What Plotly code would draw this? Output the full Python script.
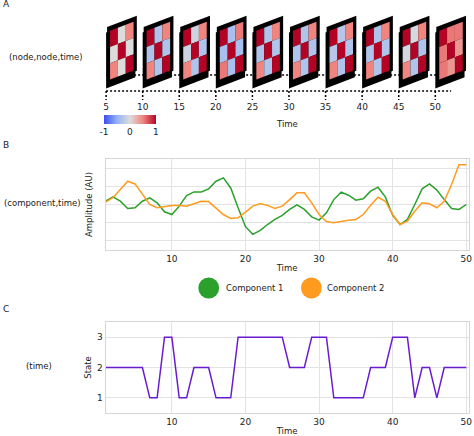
import plotly.graph_objects as go
from plotly.colors import sample_colorscale

W, H = 474, 436
FONT = "DejaVu Sans"

# ---------------- data ----------------
time = list(range(1, 51))
component1 = [0.18, 0.42, 0.18, -0.22, -0.18, 0.18, 0.37, 0.09, -0.40, -0.55,
              -0.09, 0.49, 0.69, 0.69, 0.86, 1.28, 1.46, 0.91, -0.18, -1.22,
              -1.64, -1.42, -1.10, -0.82, -0.60, -0.27, -0.02, -0.27, -0.68, -0.86,
              -0.46, 0.27, 0.68, 0.51, 0.24, 0.31, 0.73, 0.95, 0.42, -0.60,
              -1.10, -0.82, 0.00, 0.86, 1.13, 0.79, 0.27, -0.22, -0.27, 0.00]
component2 = [0.13, 0.37, 0.82, 1.28, 1.13, 0.55, 0.00, -0.18, -0.13, -0.05,
              -0.05, -0.09, 0.04, 0.18, 0.16, -0.18, -0.55, -0.77, -0.73, -0.42,
              -0.09, 0.05, -0.05, -0.22, -0.09, 0.27, 0.64, 0.64, 0.09, -0.55,
              -0.93, -1.00, -0.91, -0.86, -0.82, -0.55, -0.04, 0.40, 0.18, -0.55,
              -1.10, -0.91, -0.37, 0.09, 0.04, -0.18, 0.18, 1.10, 2.19, 2.19]
state = [2, 2, 2, 2, 2, 2, 1, 1, 3, 3, 1, 1, 2, 2, 2, 1, 1, 1, 3, 3,
         3, 3, 3, 3, 3, 2, 2, 2, 3, 3, 3, 1, 1, 1, 1, 1, 2, 2, 2, 3,
         3, 3, 1, 2, 2, 1, 2, 2, 2, 2]

comp_names = ["Component 1", "Component 2"]
comp_colors = ["#2ca02c", "#ff9b1f"]
state_color = "#6a1bd1"

snap_times = [5, 10, 15, 20, 25, 30, 35, 40, 45, 50]
corr12 = [0.0, -0.3, -0.1, -0.35, -0.3, -0.3, -0.25, -0.3, -0.05, 0.55]
corr13 = [0.5, 0.5, 0.5, 0.55, 0.5, 0.5, 0.5, 0.5, 0.5, 0.55]
corr23 = [0.0, -0.3, -0.3, -0.35, -0.3, -0.3, -0.3, -0.3, -0.3, 0.4]

cscale = [[0.0, "#3a4ff0"], [0.25, "#93b2f5"], [0.5, "#dcdcdc"],
          [0.75, "#f08580"], [1.0, "#b40426"]]

fig = go.Figure()

# ---------------- panel A geometry ----------------
PPU = 332 / 45.0          # px per time unit
X3_0 = snap_times[0] - 107 / PPU
XR3 = [X3_0, X3_0 + W / PPU]
SK = 0.38                 # skew (px up per px right)


def para(t, x0, x1, ytop, ybot):
    xs = [x0, x1, x1, x0, x0]
    ys = [ytop, ytop - SK * (x1 - x0), ybot - SK * (x1 - x0), ybot, ytop]
    ys = [y - SK * x0 for y in ys]
    return [t + x / PPU for x in xs], ys


def poly(t, x0, x1, ytop, ybot, color):
    xs, ys = para(t, x0, x1, ytop, ybot)
    fig.add_trace(go.Scatter(x=xs, y=ys, mode="lines", fill="toself",
                             fillcolor=color, line=dict(width=0, color=color),
                             hoverinfo="skip", showlegend=False,
                             xaxis="x3", yaxis="y3"))


# dotted guide lines
x_end = snap_times[-1] + 16 / PPU
for yy in (75, 91):
    fig.add_trace(go.Scatter(x=[snap_times[0], x_end], y=[yy, yy], mode="lines",
                             line=dict(color="black", width=1.5, dash="2px,2px"),
                             hoverinfo="skip", showlegend=False,
                             xaxis="x3", yaxis="y3"))
for t in snap_times:
    fig.add_trace(go.Scatter(x=[t, t], y=[91, 100], mode="lines",
                             line=dict(color="black", width=1.5, dash="2px,2px"),
                             hoverinfo="skip", showlegend=False,
                             xaxis="x3", yaxis="y3"))

CW, CH = 7.9, 16.2
for k, t in enumerate(snap_times):
    m = [[1.0, corr12[k], corr13[k]],
         [corr12[k], 1.0, corr23[k]],
         [corr13[k], corr23[k], 1.0]]
    poly(t, 0.0, 29.5, 32.5, 88.5, "black")
    poly(t, 1.0, 31.0, 27.5, 82.5, "black")
    for i in range(3):
        for j in range(3):
            col = sample_colorscale(cscale, [(m[i][j] + 1) / 2])[0]
            x0 = 4.0 + j * CW
            yt = 30.8 + i * CH + SK * 4.0
            poly(t, x0, x0 + CW, yt, yt + CH, col)

# colorbar carrier
fig.add_trace(go.Scatter(x=[snap_times[0], snap_times[0]], y=[-50, -50], mode="markers",
                         marker=dict(color=[-1, 1], cmin=-1, cmax=1, colorscale=cscale,
                                     opacity=0, showscale=True,
                                     colorbar=dict(orientation="h", x=131 / W, xanchor="center",
                                                   y=1 - 115 / H, yanchor="top",
                                                   len=52, lenmode="pixels",
                                                   thickness=9, thicknessmode="pixels",
                                                   outlinewidth=0, xpad=0, ypad=0,
                                                   tickvals=[-1, 0, 1], ticktext=["-1", "0", "1"],
                                                   ticks="", ticklen=0,
                                                   tickfont=dict(size=9, family=FONT, color="#222"))),
                         hoverinfo="skip", showlegend=False, xaxis="x3", yaxis="y3"))

# ---------------- panel B ----------------
for name, vals, c in zip(comp_names, [component1, component2], comp_colors):
    fig.add_trace(go.Scatter(x=time, y=vals, mode="lines", name=name,
                             line=dict(color=c, width=1.5), showlegend=False,
                             xaxis="x", yaxis="y"))

# ---------------- panel C ----------------
fig.add_trace(go.Scatter(x=time, y=state, mode="lines", line=dict(color=state_color, width=1.5),
                         showlegend=False, xaxis="x2", yaxis="y2"))

grid = "#e3e3e3"
frame = "#d6d6d6"
tickf = dict(size=9, family=FONT, color="#222")
titf = dict(size=8.5, family=FONT, color="#222")
xdom = [106.5 / W, 472.5 / W]

fig.update_layout(
    width=W, height=H, margin=dict(l=0, r=0, t=0, b=0),
    paper_bgcolor="white", plot_bgcolor="white",
    font=dict(family=FONT, size=9, color="#222"),
    xaxis=dict(domain=xdom, anchor="y", range=[1, 50.3], tickvals=[10, 20, 30, 40, 50],
               showgrid=True, gridcolor=grid, gridwidth=1, zeroline=False,
               showline=True, mirror=True, linecolor=frame, ticks="", tickfont=tickf,
               ticklabeloverflow="allow",
               title=dict(text="Time", font=titf, standoff=2)),
    yaxis=dict(domain=[1 - 250 / H, 1 - 159 / H], anchor="x", range=[-2.5, 2.5],
               tickvals=[-2, -1, 0, 1, 2], showticklabels=False, showgrid=True,
               gridcolor=grid, zeroline=False, showline=True, mirror=True, linecolor=frame,
               ticks="", title=dict(text="Amplitude (AU)", font=titf, standoff=10)),
    xaxis2=dict(domain=xdom, anchor="y2", range=[1, 50.3], tickvals=[10, 20, 30, 40, 50],
                showgrid=True, gridcolor=grid, zeroline=False, showline=True, mirror=True,
                linecolor=frame, ticks="", tickfont=tickf, ticklabeloverflow="allow",
                title=dict(text="Time", font=titf, standoff=2)),
    yaxis2=dict(domain=[1 - 413 / H, 1 - 322 / H], anchor="x2", range=[0.5, 3.5],
                tickvals=[1, 2, 3], showgrid=True, gridcolor=grid, zeroline=False,
                showline=True, mirror=True, linecolor=frame, ticks="", tickfont=tickf,
                title=dict(text="State", font=titf, standoff=4)),
    xaxis3=dict(domain=[0, 1], anchor="y3", range=XR3, tickvals=snap_times,
                ticktext=[str(t) for t in snap_times], showgrid=False, zeroline=False,
                showline=False, ticks="", tickfont=tickf),
    yaxis3=dict(domain=[1 - 100 / H, 1], anchor="x3", range=[100, 0], visible=False),
)

ann = [
    ("A", 1, 4, "left", 9),
    ("B", 1, 145, "left", 9),
    ("C", 1, 309, "left", 9),
    ("(node,node,time)", 46, 57, "center", 8.5),
    ("(component,time)", 42.5, 203, "center", 8.5),
    ("(time)", 39.5, 366, "center", 8.5),
    ("Time", 289, 124, "center", 8.5),
    ("Component 1", 226, 288, "left", 8.5),
    ("Component 2", 328, 288, "left", 8.5),
]
for txt, px, py, xa, fs in ann:
    fig.add_annotation(text=txt, x=px / W, y=1 - py / H, xref="paper", yref="paper",
                       xanchor=xa, yanchor="middle", showarrow=False,
                       font=dict(size=fs, family=FONT, color="#222"))

for cx, c in zip([210.5, 314], comp_colors):
    fig.add_shape(type="circle", xref="paper", yref="paper",
                  x0=(cx - 10.5) / W, x1=(cx + 10.5) / W,
                  y0=1 - 298.5 / H, y1=1 - 277.5 / H,
                  fillcolor=c, line=dict(width=0))

fig.write_html("out.html")
